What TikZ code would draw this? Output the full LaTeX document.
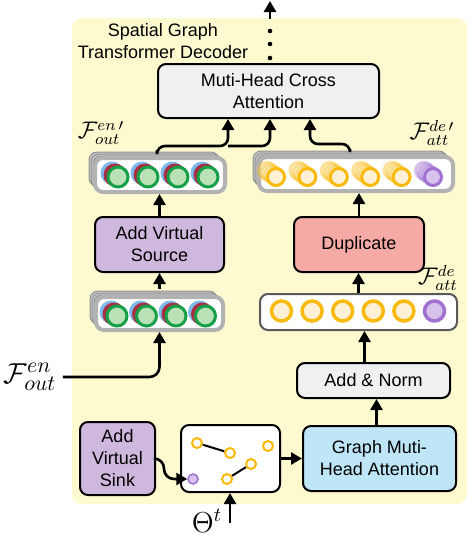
\documentclass[tikz,border=0pt]{standalone}
\usepackage{fontspec}
\setmainfont{Liberation Sans}
\usetikzlibrary{arrows.meta,calc,fit}

\definecolor{bgyellow}{RGB}{254,250,208}
\definecolor{boxgray}{RGB}{240,240,240}
\definecolor{vpurple}{RGB}{207,184,222}
\definecolor{duppink}{RGB}{245,170,165}
\definecolor{attblue}{RGB}{190,230,246}
\definecolor{encgreen}{RGB}{22,160,72}
\definecolor{encfill}{RGB}{186,226,182}
\definecolor{encred}{RGB}{170,45,65}
\definecolor{encblue}{RGB}{125,185,235}
\definecolor{nodeyellow}{RGB}{250,186,12}
\definecolor{nodecream}{RGB}{253,240,212}
\definecolor{sinkpurple}{RGB}{160,112,210}
\definecolor{sinkfill}{RGB}{214,194,234}

% stacked feature box: name, x1, y1, x2, y2
\newcommand{\featstack}[5]{%
  \foreach \s in {6,4,2}
    \draw[stacklayer] (#2-\s,#3-\s) rectangle (#4-\s,#5-\s);
  \node[stackfront, fit={(#2,#3) (#4,#5)}] (#1) {};
}

\begin{document}
\begin{tikzpicture}[x=0.5pt, y=-0.5pt,
    every node/.style={font=\fontsize{9}{11}\selectfont},
    block/.style={draw, line width=1pt, rounded corners=4pt, align=center, inner sep=0pt},
    arrow/.style={-{Triangle[length=5.5pt,width=6pt]}, line width=1.3pt},
    stacklayer/.style={draw=gray!85, fill=gray!45, line width=0.5pt, rounded corners=4pt},
    stackfront/.style={draw=gray!60, fill=white, line width=2pt, rounded corners=4pt, inner sep=0pt},
    gnode/.style={circle, draw=nodeyellow, fill=white, line width=1pt, minimum size=5pt, inner sep=0pt},
    mlabel/.style={font=\fontsize{12}{14}\selectfont, inner sep=0pt},
  ]
  \useasboundingbox (0,0) rectangle (474,536);
  \fill[bgyellow, rounded corners=5pt] (72,18) rectangle (467,504);

  \node[align=center] (title) at (163,41) {Spatial Graph\\Transformer Decoder};

  % blocks
  \node[block, fill=boxgray, minimum width=110.5pt, minimum height=27pt] (cross) at (268.5,91) {Muti-Head Cross\\Attention};
  \node[block, fill=vpurple, minimum width=64.5pt, minimum height=27.5pt] (source) at (159.5,244.5) {Add Virtual\\Source};
  \node[block, fill=duppink, minimum width=65pt, minimum height=27.5pt] (dup) at (359,244.5) {Duplicate};
  \node[block, fill=boxgray, minimum width=76.5pt, minimum height=17.5pt] (norm) at (373.5,380.5) {Add \& Norm};
  \node[block, fill=attblue, minimum width=76.5pt, minimum height=32.5pt] (gmha) at (379.5,458.5) {Graph Muti-\\Head Attention};
  \node[block, fill=white, minimum width=49.5pt, minimum height=33.5pt] (graph) at (230.5,458.5) {};
  \node[block, fill=vpurple, minimum width=37.5pt, minimum height=36.5pt] (sink) at (117.5,458.5) {Add\\Virtual\\Sink};

  % feature stacks
  \featstack{srcfeat}{95}{158}{225}{192}
  \featstack{encfeat}{96}{297}{223}{330}
  \featstack{dupfeat}{259}{157}{453}{191}
  \node[draw=black!65, fill=white, line width=1pt, rounded corners=4pt, inner sep=0pt,
        fit={(260,294) (457,330)}] (attfeat) {};

  \foreach \cx in {118,148,178,208} {
    \fill[encblue] (\cx-6,177-4) circle (11.5);
    \fill[encred] (\cx-3,177-2) circle (11.5);
    \draw[encgreen, fill=encfill, line width=1.5pt] (\cx,177) circle (10);
  }
  \foreach \cx in {117,146.5,176,205.5} {
    \fill[encblue] (\cx-6,316-4) circle (11.5);
    \fill[encred] (\cx-3,316-2) circle (11.5);
    \draw[encgreen, fill=encfill, line width=1.5pt] (\cx,316) circle (10);
  }
  \foreach \cx in {276,307.4,338.8,370.2,401.6} {
    \foreach \s in {9,6,3}
      \draw[nodeyellow, fill=nodecream, line width=1.5pt, opacity=0.4] (\cx-\s,177-0.7*\s) circle (8.5);
    \draw[nodeyellow, fill=nodecream, line width=1.5pt] (\cx,177) circle (8.5);
  }
  \foreach \s in {9,6,3}
    \draw[sinkpurple, fill=sinkfill, line width=1.5pt, opacity=0.4] (433-\s,177-0.7*\s) circle (8.5);
  \draw[sinkpurple, fill=sinkfill, line width=1.5pt] (433,177) circle (8.5);

  \foreach \cx in {281.5,312.1,342.7,373.3,403.9} {
    \draw[nodeyellow, fill=nodecream, line width=1.75pt] (\cx,311) circle (10);
  }
  \draw[sinkpurple, fill=sinkfill, line width=1.75pt] (434.5,311) circle (10);

  % graph
  \node[gnode] (g1) at (197,443) {};
  \node[gnode] (g2) at (230,453) {};
  \node[gnode] (g3) at (268,446) {};
  \node[gnode] (g4) at (251,464) {};
  \node[gnode] (g5) at (227,479) {};
  \node[gnode, draw=sinkpurple, fill=sinkfill, line width=0.75pt] (vs) at (193,479) {};
  \draw[line width=1pt] (g1) -- (g2);
  \draw[line width=1pt] (g5) -- (g4);

  % labels
  \node[mlabel] (fsrc) at (101,133) {$\mathcal{F}^{en\,\prime}_{out}$};
  \node[mlabel] (fdupl) at (432,133) {$\mathcal{F}^{de\,\prime}_{att}$};
  \node[mlabel] (fatt) at (438,278) {$\mathcal{F}^{de}_{att}$};
  \node[font=\fontsize{15}{17}\selectfont, inner sep=0pt] (fenc) at (30,377) {$\mathcal{F}^{en}_{out}$};
  \node[font=\fontsize{14}{16}\selectfont, inner sep=0pt] (theta) at (207,521) {$\Theta^t$};

  % connector end points
  \coordinate (thetain) at (230,523);
  \coordinate (decout) at (270,1);
  \coordinate (srcup) at ($(srcfeat.north)+(-3,-6)$);
  \coordinate (dupup) at ($(dupfeat.north)+(-6,-6)$);
  \coordinate (crossl) at ($(cross.south)+(-40.5,0)$);
  \coordinate (crossm) at ($(cross.south)+(1.5,0)$);
  \coordinate (crossr) at ($(cross.south)+(41.5,0)$);
  \coordinate (normup) at ($(norm.north)+(-9,0)$);
  \coordinate (gmhaup) at ($(gmha.north)+(-3,0)$);

  % connectors
  \foreach \y in {31,44,58} \fill (270,\y) circle (2.3);
  \draw[arrow] (270,19) -- (decout);
  \draw[arrow, rounded corners=4pt] (srcup) |- ($(crossl)+(0,27)$) -- (crossl);
  \draw[arrow, rounded corners=4pt] ($(crossl)+(0,27)$) -| (crossm);
  \draw[arrow, rounded corners=4pt] (dupup) |- ($(crossr)+(0,25)$) -- (crossr);
  \draw[arrow] (source.north) -- (source.north |- srcfeat.south);
  \draw[arrow] ($(encfeat.north)+(0,-6)$) -- (source.south);
  \draw[arrow, rounded corners=5pt] ([xshift=3pt]fenc.east) -| (encfeat.south);
  \draw[arrow] (dup.north) -- (dup.north |- dupfeat.south);
  \draw[arrow] (attfeat.north) -- (attfeat.north |- dup.south);
  \draw[arrow] (normup) -- (normup |- attfeat.south);
  \draw[arrow] (gmhaup) -- (gmhaup |- norm.south);
  \draw[arrow] (graph.east) -- (gmha.west);
  \draw[arrow, rounded corners=5pt] (sink.east) -- ++(8,0) |- (vs.west);
  \draw[arrow] (thetain) -- (thetain |- graph.south);
\end{tikzpicture}
\end{document}
